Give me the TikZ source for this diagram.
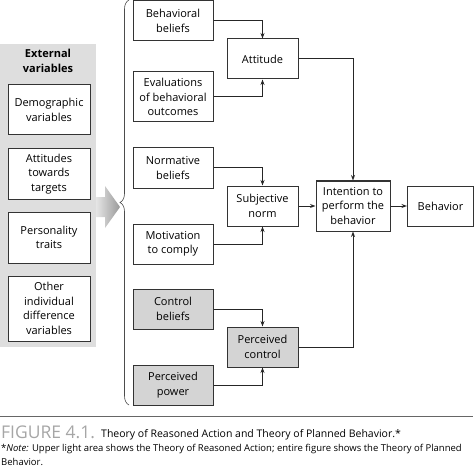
\documentclass[tikz,border=0pt]{standalone}
\usepackage{fontspec}
\setmainfont{Open Sans}
\usepackage{tikz}
\usetikzlibrary{shapes,arrows,arrows.meta,positioning,fit,calc,decorations.pathreplacing}
\tikzstyle{box} = [rectangle, draw=black!80, line width=1pt, fill=white, align=center, inner sep=1pt, font=\fontsize{11}{14.5}\selectfont]
\tikzstyle{pbox} = [box, fill=black!17]
\tikzstyle{arrow} = [line width=1pt, draw=black!85, ->, >={Stealth[length=5.5pt,width=4pt]}]
\begin{document}
\begin{tikzpicture}[x=1pt, y=-1pt]
    \useasboundingbox (0,0) rectangle (474,468);
    % external variables panel
    \fill[black!13] (0,44) rectangle (96,347);
    \node[font=\fontsize{11}{14.5}\selectfont\bfseries, align=center] (ext) at (48,61) {External\\variables};
    \node[box, minimum width=82pt, minimum height=50pt] (dem) at (49,110) {Demographic\\variables};
    \node[box, minimum width=82pt, minimum height=50pt] (tgt) at (49,174) {Attitudes\\towards\\targets};
    \node[box, minimum width=82pt, minimum height=51pt] (pers) at (49,237.5) {Personality\\traits};
    \node[box, minimum width=82pt, minimum height=65pt] (oth) at (49,308.5) {Other\\individual\\difference\\variables};
    % big arrow
    \shade[left color=black!10, right color=black!40]
        (96,197) -- (105,197) -- (105,186) -- (120,207) -- (105,228) -- (105,217) -- (96,217) -- cycle;
    % brace
    \draw[black!70, line width=0.6pt, decorate, decoration={brace, amplitude=9pt}] (129,405) -- (129,0);
    % beliefs
    \node[box, minimum width=80pt, minimum height=40pt] (bb) at (173,21) {Behavioral\\beliefs};
    \node[box, minimum width=80pt, minimum height=50pt] (ev) at (173,97) {Evaluations\\of behavioral\\outcomes};
    \node[box, minimum width=80pt, minimum height=40pt] (nb) at (173,168) {Normative\\beliefs};
    \node[box, minimum width=80pt, minimum height=40pt] (mc) at (173,244) {Motivation\\to comply};
    \node[pbox, minimum width=80pt, minimum height=40pt] (cb) at (173,309) {Control\\beliefs};
    \node[pbox, minimum width=80pt, minimum height=40pt] (pp) at (173,385) {Perceived\\power};
    % constructs
    \node[box, minimum width=71pt, minimum height=40pt] (att) at (262.5,59) {Attitude};
    \node[box, minimum width=71pt, minimum height=40pt] (sn) at (262.5,206) {Subjective\\norm};
    \node[pbox, minimum width=71pt, minimum height=40pt] (pc) at (262.5,347) {Perceived\\control};
    \node[box, minimum width=74pt, minimum height=50pt] (int) at (353,206) {Intention to\\perform the\\behavior};
    \node[box, minimum width=66pt, minimum height=40pt] (beh) at (440.5,206) {Behavior};
    % connectors
    \draw[arrow] (bb.east) -| (att.north);
    \draw[arrow] (ev.east) -| (att.south);
    \draw[arrow] (att.east) -| (int.north);
    \draw[arrow] (nb.east) -| (sn.north);
    \draw[arrow] (mc.east) -| (sn.south);
    \draw[arrow] (sn) -- (int);
    \draw[arrow] (int) -- (beh);
    \draw[arrow] (cb.east) -| (pc.north);
    \draw[arrow] (pp.east) -| (pc.south);
    \draw[arrow] (pc.east) -| (int.south);
    % caption
    \draw[black!60, line width=0.8pt] (0,416) -- (473,416);
    \node[anchor=base west, inner sep=0pt, text=black!35, font=\fontsize{17.5}{17.5}\selectfont] (fig) at (1,438) {FIGURE 4.1.};
    \node[anchor=base west, inner sep=0pt, font=\fontsize{10.5}{12}\selectfont] (cap) at (101,437) {Theory of Reasoned Action and Theory of Planned Behavior.*};
    \node[anchor=base west, inner sep=0pt, font=\fontsize{9.5}{10}\selectfont] (note) at (1,451) {*\textit{Note:} Upper light area shows the Theory of Reasoned Action; entire figure shows the Theory of Planned};
    \node[anchor=base west, inner sep=0pt, font=\fontsize{9.5}{10}\selectfont] (note2) at (1,465.5) {Behavior.};
\end{tikzpicture}
\end{document}
